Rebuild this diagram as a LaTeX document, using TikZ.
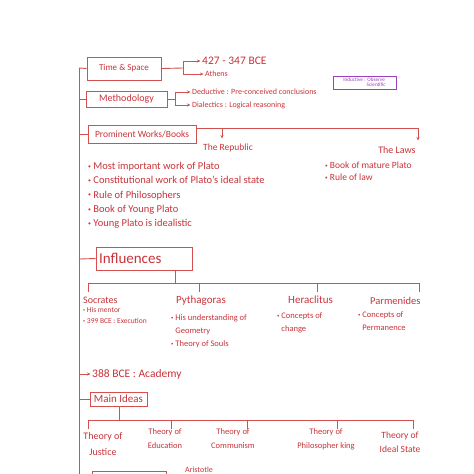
\documentclass[tikz,border=0pt]{standalone}
\usepackage{fontspec}
\setmainfont{Carlito}
\usetikzlibrary{arrows.meta,calc}
\definecolor{lred}{HTML}{D4504F}
\definecolor{tred}{HTML}{C9333A}
\definecolor{lpur}{HTML}{9A3FBF}
\newcommand\bul{\raisebox{0.25ex}{\scalebox{0.55}{•}}\ }
\tikzset{
  ln/.style={draw=lred,line width=0.9pt},
  arr/.style={ln,-{Stealth[length=3.5pt,width=3pt]},shorten >=1.5pt},
  box/.style={draw=lred,line width=0.9pt,inner sep=0pt,text=tred,font=\fontsize{9}{10}\selectfont},
  txt/.style={inner sep=0pt,text=tred,font=\fontsize{9}{10}\selectfont},
  sm/.style={inner sep=0pt,text=tred,font=\fontsize{8}{9}\selectfont},
  ml/.style={inner sep=0pt,text=tred,align=center,font=\fontsize{8.5}{14}\selectfont},
  bl/.style={inner sep=0pt,text=tred,align=left,font=\fontsize{7.5}{11.5}\selectfont},
}
\begin{document}
\begin{tikzpicture}[x=1pt,y=-1pt]
\useasboundingbox (0,0) rectangle (474,474);
\clip (0,0) rectangle (474,474);
\fill[white] (0,0) rectangle (474,474);
% main spine
\coordinate (m0) at (79,68);
\coordinate (mend) at (79,480);
\draw[ln] (m0) -- (mend);
% Time & Space
\node[box,minimum width=74pt,minimum height=23pt] (ts) at (124,68.5) {Time \& Space};
\draw[ln] (m0) -- (ts.west);
\coordinate (tsj) at (183,68);
\node[txt,anchor=west,font=\fontsize{11.5}{12}\selectfont] (d1) at (202,61) {427 - 347 BCE};
\node[sm,anchor=west] (d2) at (205,74) {Athens};
\draw[ln] (ts.east) -- (tsj);
\draw[arr] (tsj) |- (d1.west);
\draw[arr] (tsj) |- (d2.west);
% Methodology
\node[box,minimum width=81pt,minimum height=16pt,font=\fontsize{10}{11}\selectfont] (me) at (126.5,99) {Methodology};
\coordinate (m1) at (79,99);
\draw[ln] (m1) -- (me.west);
\coordinate (mej) at (175,99);
\node[sm,anchor=west] (d3) at (192,92) {Deductive : Pre-conceived conclusions};
\node[sm,anchor=west] (d4) at (192,105) {Dialectics : Logical reasoning};
\draw[ln] (me.east) -- (mej);
\draw[arr] (mej) |- (d3.west);
\draw[arr] (mej) |- (d4.west);
% Inductive
\node[draw=lpur,line width=0.9pt,inner sep=1pt,minimum width=63pt,minimum height=12pt,text=lpur,font=\fontsize{5.2}{5.4}\selectfont] (ind) at (364.5,83)
 {\begin{tabular}{@{}l@{\ }c@{}}Inductive : & Observe\\ & Scientific\end{tabular}};
% Prominent works
\node[box,minimum width=108pt,minimum height=18pt,font=\fontsize{9.5}{10}\selectfont] (pw) at (142,134) {Prominent Works/Books};
\coordinate (m2) at (79,134);
\draw[ln] (m2) -- (pw.west);
\coordinate (pwr) at (196,128);
\coordinate (repj) at (222,128);
\coordinate (repa) at (222,140);
\coordinate (lawj) at (418,128);
\coordinate (lawa) at (418,142);
\draw[ln] (pwr) -- (lawj);
\draw[arr] (repj) -- (repa);
\draw[arr] (lawj) -- (lawa);
\node[txt,font=\fontsize{9.5}{10}\selectfont] (rep) at (228,148) {The Republic};
\node[txt,font=\fontsize{10}{10}\selectfont] (law) at (397,150) {The Laws};
\node[bl,anchor=north west,font=\fontsize{10.5}{14.3}\selectfont] (repl) at (88,162) {\bul Most important work of Plato\\\bul Constitutional work of Plato's ideal state\\\bul Rule of Philosophers\\\bul Book of Young Plato\\\bul Young Plato is idealistic};
\node[bl,anchor=north west,font=\fontsize{9.5}{12}\selectfont] (lawl) at (325,162) {\bul Book of mature Plato\\\bul Rule of law};
% Influences
\node[box,minimum width=96pt,minimum height=23pt,font=\fontsize{15}{16}\selectfont,text width=90pt,align=left] (inf) at (144,258.5) {Influences};
\coordinate (m3) at (79,259);
\draw[ln] (m3) -- (inf.west);
\coordinate (infd) at (175,283);
\draw[ln] (inf.south -| infd) -- (infd);
\coordinate (i1) at (88,283);
\coordinate (i4) at (419,283);
\draw[ln] (i1) -- (i4);
\coordinate (i2) at (199,283);
\coordinate (i3) at (317,283);
\foreach \t in {i1,i2,i3,i4} \draw[ln] (\t) -- ++(0,9);
\node[txt,anchor=west,font=\fontsize{10}{10}\selectfont] (soc) at (83,300) {Socrates};
\node[bl,anchor=north west,font=\fontsize{7.5}{11}\selectfont] (socl) at (83,307) {\bul His mentor\\\bul 399 BCE : Execution};
\node[txt,anchor=west,font=\fontsize{11}{11}\selectfont] (pyt) at (176,301) {Pythagoras};
\node[bl,anchor=north west,font=\fontsize{8.5}{13}\selectfont] (pytl) at (171,314) {\bul His understanding of\\\phantom{\bul}Geometry\\\bul Theory of Souls};
\node[txt,anchor=west,font=\fontsize{11}{11}\selectfont] (her) at (288,300) {Heraclitus};
\node[bl,anchor=north west,font=\fontsize{8.5}{13}\selectfont] (herl) at (277,312) {\bul Concepts of\\\phantom{\bul}change};
\node[txt,anchor=west,font=\fontsize{10.5}{11}\selectfont] (par) at (370,301) {Parmenides};
\node[bl,anchor=north west,font=\fontsize{8.5}{13}\selectfont] (parl) at (358,311) {\bul Concepts of\\\phantom{\bul}Permanence};
% Academy
\coordinate (m4) at (79,374);
\node[txt,anchor=west,font=\fontsize{11.5}{12}\selectfont] (aca) at (92,374) {388 BCE : Academy};
\draw[arr] (m4) -- (aca.west);
% Main ideas
\node[box,minimum width=57pt,minimum height=14pt,font=\fontsize{11}{11}\selectfont] (mi) at (118.5,399) {Main Ideas};
\coordinate (m5) at (79,399);
\draw[ln] (m5) -- (mi.west);
\coordinate (mid) at (119,420);
\draw[ln] (mi.south -| mid) -- (mid);
\coordinate (t1) at (88,420);
\coordinate (t2) at (171,420);
\coordinate (t3) at (247,420);
\coordinate (t4) at (337,420);
\coordinate (t5) at (413,420);
\draw[ln] (t1) -- (t5);
\foreach \t in {t1,t2,t3,t4,t5} \draw[ln] (\t) -- ++(0,9);
\node[ml,anchor=north,font=\fontsize{10}{16}\selectfont] (th1) at (103,432) {Theory of\\Justice};
\node[ml,anchor=north] (th2) at (165,428) {Theory of\\Education};
\node[ml,anchor=north] (th3) at (233,428) {Theory of\\Communism};
\node[ml,anchor=north] (th4) at (326,428) {Theory of\\Philosopher king};
\node[ml,anchor=north,font=\fontsize{9.5}{14}\selectfont] (th5) at (400,432) {Theory of\\Ideal State};
% bottom partial
\node[box,minimum width=74pt,minimum height=20pt] (bb) at (129,481) {};
\node[sm,anchor=west] (ari) at (185,470) {Aristotle};
\end{tikzpicture}
\end{document}
